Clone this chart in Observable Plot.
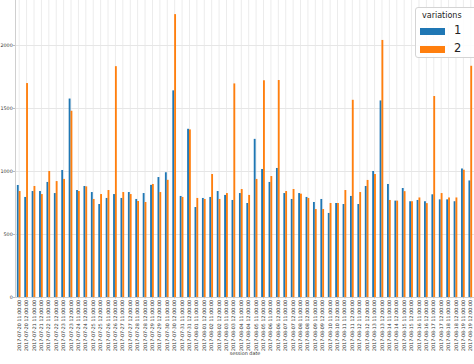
<!DOCTYPE html>
<html>
<head>
<meta charset="utf-8">
<script src="https://cdn.jsdelivr.net/npm/d3@7"></script>
<script src="https://cdn.jsdelivr.net/npm/@observablehq/plot@0.6"></script>
<style>
  body { margin: 0; background: #fff; overflow: hidden; }
  #chart { position: relative; width: 474px; height: 364px; overflow: hidden; font-family: "DejaVu Sans", sans-serif; }
  #chart svg { display: block; }
  .legend { position: absolute; left: 415px; top: 7px; width: 66px; height: 51px; border: 1px solid #d4d4d4; border-radius: 3px; background: rgba(255,255,255,0.85); box-sizing: border-box; color: #222; }
  .legend .title { position: absolute; left: 6px; top: 3px; font-size: 8px; }
  .legend .sw { position: absolute; left: 4px; width: 25px; height: 7px; }
  .legend .lab { position: absolute; left: 38px; font-size: 11.5px; line-height: 1; }
</style>
</head>
<body>
<div id="chart"></div>
<script>
// session days, each with two hourly sessions
const days = [
  "2017-07-20", "2017-07-21", "2017-07-22", "2017-07-23", "2017-07-24", "2017-07-25",
  "2017-07-26", "2017-07-27", "2017-07-28", "2017-07-29", "2017-07-30", "2017-07-31",
  "2017-08-01", "2017-08-02", "2017-08-03", "2017-08-04", "2017-08-05", "2017-08-06",
  "2017-08-07", "2017-08-08", "2017-08-09", "2017-08-10", "2017-08-11", "2017-08-12",
  "2017-08-13", "2017-08-14", "2017-08-15", "2017-08-16", "2017-08-17", "2017-08-18",
  "2017-08-19"
];
const hours = ["11:00:00", "12:00:00"];

const variations = ["1", "2"];
const colors = ["#1f77b4", "#ff7f0e"];

// counts per session for variation 1 and variation 2
const variation1 = [
  889, 794, 841, 841, 913, 825, 1008, 1575, 849, 881,
  833, 738, 786, 817, 786, 833, 778, 825, 890, 952,
  990, 1640, 802, 1335, 714, 786, 794, 841, 810, 770,
  825, 746, 1255, 1016, 913, 1024, 825, 778, 825, 794,
  754, 778, 667, 746, 738, 802, 738, 881, 1000, 1560,
  897, 765, 865, 760, 770, 760, 815, 775, 775, 760,
  1020, 925
];
const variation2 = [
  841, 1698, 881, 817, 1000, 920, 937, 1478, 841, 878,
  778, 817, 849, 1832, 833, 817, 762, 754, 897, 833,
  930, 2245, 794, 1330, 786, 778, 976, 778, 825, 1695,
  857, 810, 937, 1720, 960, 1722, 841, 857, 820, 786,
  698, 698, 746, 746, 849, 1565, 833, 929, 976, 2040,
  770, 765, 840, 760, 790, 745, 1595, 825, 790, 790,
  1010, 1835
];

const yTicks = [0, 500, 1000, 1500, 2000];

const sessions = days.flatMap(d => hours.map(h => `${d} ${h}`));
const idx = d3.range(sessions.length);

// long table: one row per bar, side by side within each session slot
const rows = idx.flatMap(i => [
  {i, variation: variations[0], value: variation1[i]},
  {i, variation: variations[1], value: variation2[i]}
]);
const barW = 0.25;

const fontSize = 4.8;
const chart = Plot.plot({
  width: 474,
  height: 364,
  marginLeft: 15,
  marginRight: 0,
  marginTop: 0,
  marginBottom: 67,
  style: {fontFamily: "DejaVu Sans, sans-serif", background: "#fff", color: "#333"},
  x: {type: "linear", domain: [-0.5, sessions.length - 0.5]},
  y: {domain: [0, 2357]},
  color: {domain: variations, range: colors},
  marks: [
    Plot.gridX(idx, {stroke: "#ececec", strokeOpacity: 1}),
    Plot.gridY(yTicks, {stroke: "#e6e6e6", strokeOpacity: 1}),
    Plot.ruleX([-0.5], {stroke: "#cfcfcf"}),
    Plot.rectY(rows, {
      x1: d => d.i + (d.variation === variations[0] ? -barW : 0),
      x2: d => d.i + (d.variation === variations[0] ? 0 : barW),
      y1: 0,
      y2: "value",
      fill: "variation",
      inset: 0
    }),
    Plot.ruleY([0], {stroke: "#cfcfcf"}),
    Plot.axisY({ticks: yTicks, tickFormat: d3.format("d"), tickSize: 2, tickPadding: 0.8, fontSize, label: null, stroke: "#bbb"}),
    Plot.axisX({
      ticks: idx,
      tickFormat: i => sessions[i],
      tickRotate: -90,
      tickSize: 1.5,
      tickPadding: 1,
      fontSize,
      label: null,
      stroke: "#bbb"
    }),
    Plot.text(["session date"], {frameAnchor: "bottom", dy: 57, fontSize: 4.9, fill: "#333"})
  ]
});

const root = document.getElementById("chart");
root.appendChild(chart);

// legend box drawn over the top-right corner of the plot
const legend = document.createElement("div");
legend.className = "legend";
legend.innerHTML = `<div class="title">variations</div>` +
  variations.map((v, k) =>
    `<div class="sw" style="top:${20 + k * 18}px;background:${colors[k]}"></div>` +
    `<div class="lab" style="top:${17 + k * 18}px">${v}</div>`).join("");
root.appendChild(legend);
</script>
</body>
</html>
